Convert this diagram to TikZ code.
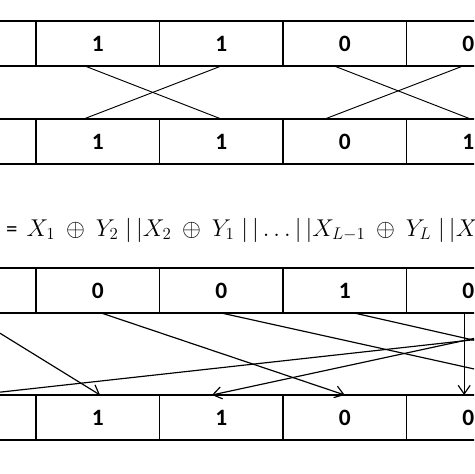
\documentclass[tikz,border=0pt]{standalone}
\usepackage{fontspec}
\newfontfamily\cellfont{Carlito}
\usetikzlibrary{arrows.meta,positioning}

\begin{document}
\begin{tikzpicture}[x=0.03cm, y=-0.03cm, node distance=0pt,
    >={Straight Barb[length=2.6mm,width=3.6mm]},
    cell/.style = {draw, rectangle, line width=1.1pt, outer sep=0pt, inner sep=0pt, minimum height=1.35cm, minimum width=3.705cm, font=\cellfont\bfseries\fontsize{20}{24}\selectfont},
    swap/.style = {line width=0.8pt},
    move/.style = {->, line width=1pt}]
    \useasboundingbox (0,0) rectangle (474,474);
    \clip (0,0) rectangle (474,474);
    % first word and its swapped pairs
    \node [cell] (a1) at (97.75,43.5) {1};
    \node [cell, left=of a1] (a0) {};
    \node [cell, right=of a1] (a2) {1};
    \node [cell, right=of a2] (a3) {0};
    \node [cell, right=of a3] (a4) {0};
    \node [cell, below=1.59cm of a0] (b0) {};
    \node [cell, right=of b0] (b1) {1};
    \node [cell, right=of b1] (b2) {1};
    \node [cell, right=of b2] (b3) {0};
    \node [cell, right=of b3] (b4) {1};
    \draw [swap] ([xshift=-11pt]a1.south) -- (b2.north);
    \draw [swap] (a2.south) -- ([xshift=-12pt]b1.north);
    \draw [swap] ([xshift=-9pt]a3.south) -- ([xshift=2pt]b4.north);
    \draw [swap] ([xshift=-4.5pt]a4.south) -- ([xshift=-17pt]b3.north);
    % formula
    \node [anchor=base west, inner sep=0pt, font=\fontsize{19.5}{23}\selectfont] (xor) at (6,236) {{\cellfont =}\hspace{0.4em}$X_1\mskip4mu\oplus\mskip4mu Y_2\;|\,|X_2\mskip4mu\oplus\mskip4mu Y_1\;|\,|\ldots|\,|X_{L-1}\mskip4mu\oplus\mskip4mu Y_L\;|\,|X$};
    % second word and its permutation
    \node [cell] (c1) at (97.75,290.5) {0};
    \node [cell, left=of c1] (c0) {};
    \node [cell, right=of c1] (c2) {0};
    \node [cell, right=of c2] (c3) {1};
    \node [cell, right=of c3] (c4) {0};
    \node [cell, below=2.46cm of c0] (d0) {};
    \node [cell, right=of d0] (d1) {1};
    \node [cell, right=of d1] (d2) {1};
    \node [cell, right=of d2] (d3) {0};
    \node [cell, right=of d3] (d4) {0};
    \coordinate [right=3.705cm of c4.south] (c5);
    \coordinate [right=7.41cm of c4.south] (c6);
    \coordinate [right=3.705cm of d4.north] (d5);
    \coordinate [right=7.41cm of d4.north] (d6);
    \draw [move] ([xshift=-6pt]c0.south) -- ([xshift=2pt]d1.north);
    \draw [move] ([xshift=3pt]c1.south) -- (d3.north);
    \draw [move] (c2.south) -- (d5);
    \draw [move] ([xshift=8pt]c3.south) -- (d6);
    \draw [move] ([xshift=-3.5pt]c4.south) -- ([xshift=-3.5pt]d4.north);
    \draw [move] (c5) -- ([xshift=-8pt]d2.north);
    \draw [move] (c6) -- (d0.north);
\end{tikzpicture}
\end{document}
